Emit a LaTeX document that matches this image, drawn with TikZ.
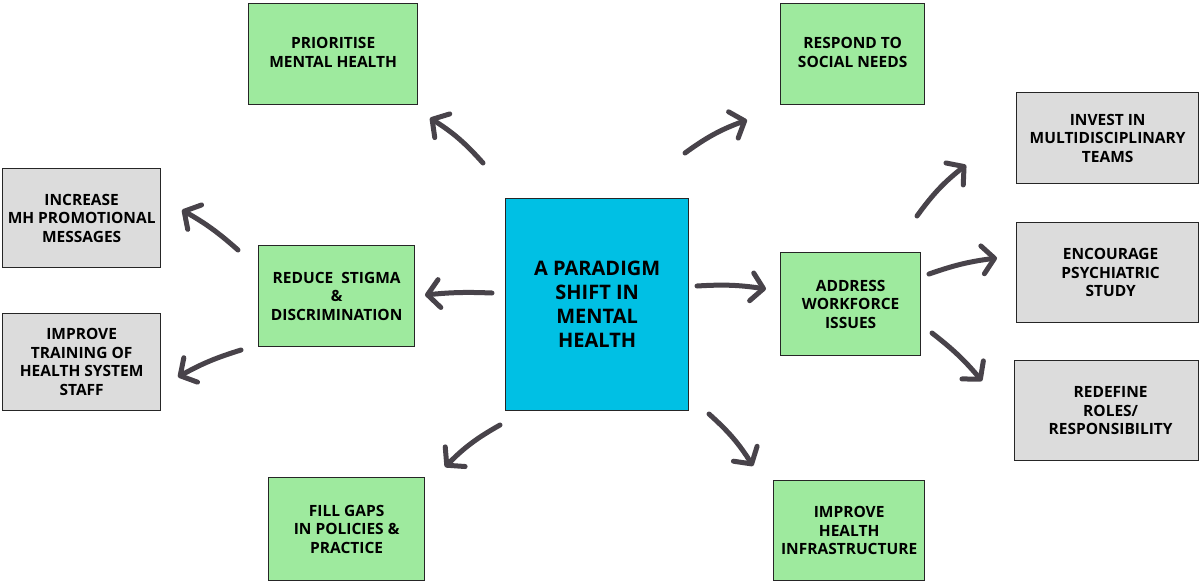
\documentclass[tikz,border=0pt]{standalone}
\usepackage{fontspec}
\setmainfont{Open Sans}
\usetikzlibrary{arrows.meta}
\definecolor{mygreen}{RGB}{158,234,158}
\definecolor{mygray}{RGB}{220,220,220}
\definecolor{mycyan}{RGB}{0,192,228}
\definecolor{arrowc}{RGB}{72,67,74}
\tikzset{
  box/.style={draw=black!85, line width=1.3pt, inner sep=0pt, align=center,
    font=\bfseries\fontsize{15.5}{18.5}\selectfont, anchor=north west},
  gbox/.style={box, fill=mygreen},
  ybox/.style={box, fill=mygray},
  cbox/.style={box, fill=mycyan, font=\bfseries\fontsize{20}{24}\selectfont},
  arr/.style={draw=arrowc, line width=5pt, line cap=round,
    -{Straight Barb[length=12pt, width=28pt, line cap=round, line join=round]}},
}
\begin{document}
\begin{tikzpicture}[x=1pt,y=-1pt]
\useasboundingbox (0,0) rectangle (1200,582);
% nodes
\node[gbox, minimum width=169pt, minimum height=101pt] (prio) at (248,3) {\raisebox{3pt}{\begin{tabular}{@{}c@{}}PRIORITISE\\MENTAL HEALTH\end{tabular}}};
\node[gbox, minimum width=144pt, minimum height=101pt] (resp) at (780,3) {\raisebox{3pt}{\begin{tabular}{@{}c@{}}RESPOND TO\\SOCIAL NEEDS\end{tabular}}};
\node[ybox, minimum width=182pt, minimum height=91pt] (inv) at (1016,92) {INVEST IN\\MULTIDISCIPLINARY\\TEAMS};
\node[ybox, minimum width=158pt, minimum height=99pt] (incr) at (2,168) {INCREASE\\MH PROMOTIONAL\\MESSAGES};
\node[gbox, minimum width=156pt, minimum height=101pt] (red) at (258,245) {REDUCE\ \ STIGMA\\\&\\DISCRIMINATION};
\node[cbox, minimum width=183pt, minimum height=212pt] (cen) at (505,198) {A PARADIGM\\SHIFT IN\\MENTAL\\HEALTH};
\node[gbox, minimum width=140pt, minimum height=103pt] (addr) at (780,252) {ADDRESS\\WORKFORCE\\ISSUES};
\node[ybox, minimum width=182pt, minimum height=100pt] (enc) at (1016,222) {\hspace*{6pt}ENCOURAGE\\\hspace*{6pt}PSYCHIATRIC\\\hspace*{6pt}STUDY};
\node[ybox, minimum width=158pt, minimum height=97pt] (train) at (2,313) {IMPROVE\\TRAINING OF\\HEALTH SYSTEM\\STAFF};
\node[ybox, minimum width=184pt, minimum height=100pt] (redef) at (1014,360) {\hspace*{8pt}REDEFINE\\\hspace*{8pt}ROLES/\\\hspace*{8pt}RESPONSIBILITY};
\node[gbox, minimum width=156pt, minimum height=103pt] (fill) at (268,477) {FILL GAPS\\IN POLICIES \&\\PRACTICE};
\node[gbox, minimum width=151pt, minimum height=100pt] (infra) at (773,480) {IMPROVE\\HEALTH\\INFRASTRUCTURE};
% arrow end points
\coordinate (a1s) at (483,163); \coordinate (a1e) at (430,118);
\coordinate (a2s) at (685,153); \coordinate (a2e) at (747,120);
\coordinate (a3s) at (238,250); \coordinate (a3e) at (182,210);
\coordinate (a4s) at (241,350); \coordinate (a4e) at (178,377);
\coordinate (a5s) at (492,293); \coordinate (a5e) at (425,295);
\coordinate (a6s) at (697,286); \coordinate (a6e) at (766,289);
\coordinate (a7s) at (500,425); \coordinate (a7e) at (445,467);
\coordinate (a8s) at (709,414); \coordinate (a8e) at (753,466);
\coordinate (a9s) at (917,216); \coordinate (a9e) at (966,165);
\coordinate (a10s) at (929,274); \coordinate (a10e) at (997,258);
\coordinate (a11s) at (932,333); \coordinate (a11e) at (982,381);
% arrows
\draw[arr] (a1s) to[bend right=8] (a1e);
\draw[arr] (a2s) to[bend left=8] (a2e);
\draw[arr] (a3s) to[bend right=6] (a3e);
\draw[arr] (a4s) to[bend right=6] (a4e);
\draw[arr] (a5s) to[bend right=4] (a5e);
\draw[arr] (a6s) to[bend left=6] (a6e);
\draw[arr] (a7s) to[bend right=8] (a7e);
\draw[arr] (a8s) to[bend left=8] (a8e);
\draw[arr] (a9s) to[bend left=8] (a9e);
\draw[arr] (a10s) to[bend left=6] (a10e);
\draw[arr] (a11s) to[bend left=6] (a11e);
\end{tikzpicture}
\end{document}
